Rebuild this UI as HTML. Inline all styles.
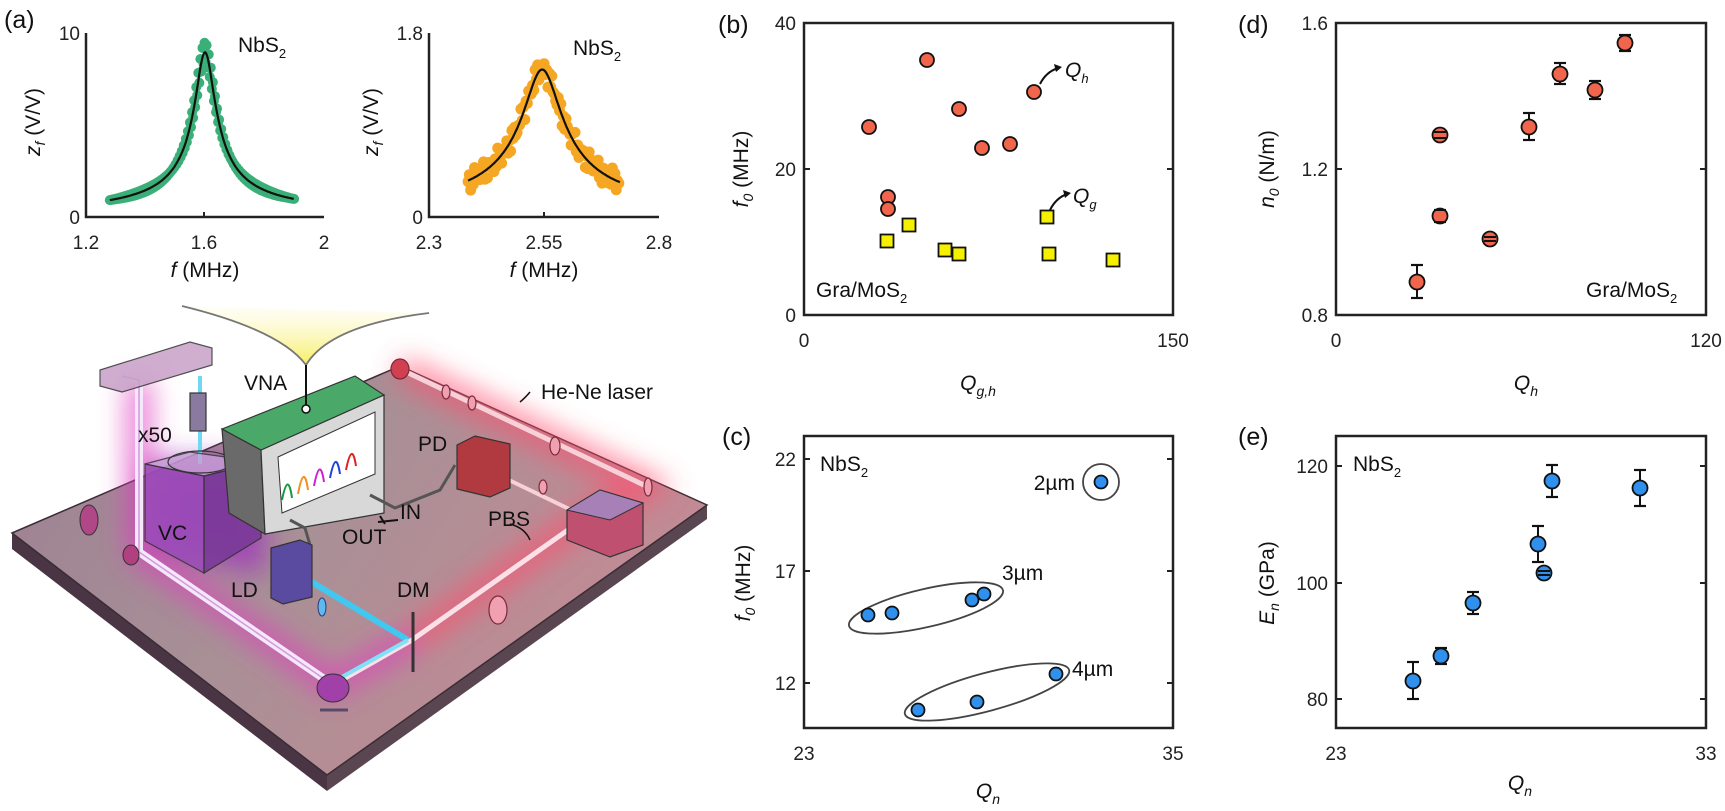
<!DOCTYPE html>
<html><head><meta charset="utf-8">
<style>
html,body{margin:0;padding:0;background:#fff;}
svg{display:block;font-family:"Liberation Sans",sans-serif;}
.t{font-size:19px;fill:#222;}
.lab{font-size:21px;fill:#111;}
.pl{font-size:25px;fill:#111;}
.ax{fill:none;stroke:#222;stroke-width:2.5;}
</style></head><body>
<svg id="s" width="1725" height="811" viewBox="0 0 1725 811" xmlns="http://www.w3.org/2000/svg">
<defs>
<linearGradient id="fan" x1="0" y1="0" x2="0" y2="1"><stop offset="0" stop-color="#fffbe0" stop-opacity="0.3"/><stop offset="1" stop-color="#f6ee60"/></linearGradient>
<linearGradient id="plate" x1="0" y1="0" x2="1" y2="0.4"><stop offset="0" stop-color="#9c7f93"/><stop offset="0.5" stop-color="#a89096"/><stop offset="1" stop-color="#c48a94"/></linearGradient>
<filter id="glow" x="-30%" y="-30%" width="160%" height="160%"><feGaussianBlur stdDeviation="6"/></filter>
<filter id="glow2" x="-30%" y="-30%" width="160%" height="160%"><feGaussianBlur stdDeviation="14"/></filter>
</defs>

<!-- ================= Illustration ================= -->
<g id="illus">
<polygon points="12,533 327,775 327,791 12,549" fill="#4a3545"/>
<polygon points="327,775 707,505 707,519 327,791" fill="#5a4650"/>
<polygon points="12,533 400,366 707,505 327,775" fill="url(#plate)" stroke="#3a2c36" stroke-width="1.5"/>
<!-- glows -->
<g filter="url(#glow2)" opacity="0.8">
<polyline points="139,380 139,552 333,685 412,640 592,513" fill="none" stroke="#e040c0" stroke-width="22"/>
<polyline points="400,369 648,487 592,513 412,640" fill="none" stroke="#ff5070" stroke-width="22"/>
<polygon points="150,460 265,460 265,575 150,545" fill="#a030c0"/>
</g>
<!-- red beam -->
<polyline points="400,369 648,487" fill="none" stroke="#f8d0d8" stroke-width="5"/>
<polyline points="457,455 592,520" fill="none" stroke="#f8d0d8" stroke-width="4"/>
<polyline points="592,513 412,640 333,685" fill="none" stroke="#fbe0e8" stroke-width="5"/>
<!-- white/purple beam -->
<polyline points="122,376 139,380 139,552 333,685" fill="none" stroke="#f4e8fa" stroke-width="8" stroke-linejoin="round"/>
<polyline points="122,376 139,380 139,552 333,685" fill="none" stroke="#c060d0" stroke-width="1.5" opacity="0.6"/>
<!-- blue beam -->
<line x1="300" y1="575" x2="408" y2="640" stroke="#40c8f0" stroke-width="6"/>
<line x1="408" y1="640" x2="333" y2="682" stroke="#80e0f8" stroke-width="4"/>
<line x1="200" y1="376" x2="200" y2="464" stroke="#70d8f0" stroke-width="4"/>
<!-- top rail -->
<polygon points="100,370 190,342 212,348 212,365 122,392 100,386" fill="#c8a0c8" stroke="#333" stroke-width="1.2" opacity="0.85"/>
<rect x="190" y="393" width="16" height="38" fill="#8a7aa0" stroke="#333" stroke-width="1.2"/>
<!-- VC box -->
<polygon points="145,464 190,452 261,462 204,476" fill="#c8a0d8" stroke="#333" stroke-width="1.2" opacity="0.8"/>
<polygon points="145,464 204,476 204,573 145,541" fill="#9a4cb8" stroke="#333" stroke-width="1.2" opacity="0.85"/>
<polygon points="204,476 261,462 261,538 204,573" fill="#7a3a98" stroke="#333" stroke-width="1.2" opacity="0.9"/>
<ellipse cx="200" cy="462" rx="32" ry="11" fill="none" stroke="#333" stroke-width="1.2"/>
<!-- cylinder left -->
<ellipse cx="89" cy="520" rx="9" ry="15" fill="#b04888" stroke="#333"/>
<!-- VNA -->
<polygon points="222,429 261,450 265,534 229,513" fill="#6a6a6a" stroke="#333" stroke-width="1.2"/>
<polygon points="261,450 384,395 384,513 265,534" fill="#d8d8d8" stroke="#333" stroke-width="1.2"/>
<polygon points="222,429 355,376 384,395 261,450" fill="#4aa868" stroke="#333" stroke-width="1.2"/>
<polygon points="278,457 375,412 375,474 282,513" fill="#fff" stroke="#333" stroke-width="1"/>
<path d="M282,500 Q288,470 292,498" fill="none" stroke="#1a9a40" stroke-width="2"/>
<path d="M298,494 Q304,462 308,490" fill="none" stroke="#f09020" stroke-width="2"/>
<path d="M314,486 Q320,455 324,482" fill="none" stroke="#d020d0" stroke-width="2"/>
<path d="M330,478 Q336,448 340,474" fill="none" stroke="#2040e0" stroke-width="2"/>
<path d="M346,470 Q352,440 356,466" fill="none" stroke="#e02020" stroke-width="2"/>
<!-- cables -->
<polyline points="370,495 395,508 440,490 455,465" fill="none" stroke="#555" stroke-width="3"/>
<polyline points="290,520 305,528 310,545" fill="none" stroke="#555" stroke-width="3"/>
<path d="M378,522 L398,520 M380,516 L385,524" stroke="#111" stroke-width="2" fill="none"/>
<!-- LD -->
<polygon points="271,548 300,540 312,545 312,597 283,604 271,598" fill="#5a4aa0" stroke="#333" stroke-width="1.2"/>
<!-- PD -->
<polygon points="457,445 475,436 510,444 510,488 490,497 457,489" fill="#b03a40" stroke="#333" stroke-width="1.2"/>
<!-- PBS -->
<polygon points="567,510 600,490 643,503 643,545 610,557 567,540" fill="#c05070" stroke="#333" stroke-width="1.2"/>
<polygon points="567,510 600,490 643,503 610,520" fill="#a880b8" stroke="#333" stroke-width="1"/>
<!-- lenses / mirrors -->
<g fill="#f0a0b0" stroke="#7a2a3a" stroke-width="1.2">
<ellipse cx="446" cy="392" rx="4" ry="7"/><ellipse cx="472" cy="403" rx="4" ry="7"/><ellipse cx="555" cy="446" rx="5" ry="9"/>
<ellipse cx="543" cy="487" rx="4" ry="7"/><ellipse cx="498" cy="610" rx="9" ry="14"/><ellipse cx="648" cy="487" rx="4" ry="9"/>
<ellipse cx="400" cy="369" rx="9" ry="10" fill="#d04050"/>
</g>
<ellipse cx="322" cy="607" rx="4" ry="9" fill="#60b8f0" stroke="#2a3a7a"/>
<ellipse cx="333" cy="688" rx="16" ry="14" fill="#a040a8" stroke="#333"/>
<line x1="320" y1="710" x2="348" y2="710" stroke="#5a4a6a" stroke-width="3"/>
<line x1="413" y1="612" x2="413" y2="672" stroke="#333" stroke-width="3"/>
<ellipse cx="131" cy="555" rx="8" ry="10" fill="#b04080" stroke="#333"/>
<!-- fan -->
<path d="M182,306 Q280,330 306,365 Q330,325 429,313" fill="url(#fan)" stroke="#777" stroke-width="1.8"/>
<line x1="306" y1="365" x2="306" y2="408" stroke="#111" stroke-width="2"/>
<circle cx="306" cy="409" r="4" fill="#fff" stroke="#111" stroke-width="1.5"/>
<path d="M530,392 Q525,398 520,402" fill="none" stroke="#111" stroke-width="1.5"/>
<path d="M510,524 Q525,528 530,540" fill="none" stroke="#111" stroke-width="1.5"/>
<g class="lab">
<text x="244" y="390">VNA</text><text x="138" y="442">x50</text><text x="158" y="540">VC</text>
<text x="231" y="597">LD</text><text x="342" y="544">OUT</text><text x="400" y="519">IN</text>
<text x="418" y="451">PD</text><text x="488" y="526">PBS</text><text x="397" y="597">DM</text>
<text x="541" y="399">He-Ne laser</text>
</g>
</g>

<!-- ================= Panel a ================= -->
<text class="pl" x="4" y="28">(a)</text>
<g id="a1"></g>
<polyline class="ax" points="86,33 86,217 324,217" stroke-width="2"/>
<line x1="204" y1="217" x2="204" y2="212" stroke="#222" stroke-width="2"/>
<text class="t" x="80" y="40" text-anchor="end">10</text>
<text class="t" x="80" y="224" text-anchor="end">0</text>
<text class="t" x="86" y="249" text-anchor="middle">1.2</text>
<text class="t" x="204" y="249" text-anchor="middle">1.6</text>
<text class="t" x="324" y="249" text-anchor="middle">2</text>
<text class="lab" x="205" y="277" text-anchor="middle"><tspan font-style="italic">f</tspan> (MHz)</text>
<text class="lab" transform="translate(40,122) rotate(-90)" text-anchor="middle"><tspan font-style="italic">z</tspan><tspan font-style="italic" font-size="14" dy="5">f</tspan><tspan dy="-5"> (V/V)</tspan></text>
<text class="lab" x="238" y="52">NbS<tspan font-size="13" dy="6">2</tspan></text>

<polyline class="ax" points="429,33 429,217 659,217" stroke-width="2"/>
<line x1="544" y1="217" x2="544" y2="212" stroke="#222" stroke-width="2"/>
<text class="t" x="423" y="40" text-anchor="end">1.8</text>
<text class="t" x="423" y="224" text-anchor="end">0</text>
<text class="t" x="429" y="249" text-anchor="middle">2.3</text>
<text class="t" x="544" y="249" text-anchor="middle">2.55</text>
<text class="t" x="659" y="249" text-anchor="middle">2.8</text>
<text class="lab" x="544" y="277" text-anchor="middle"><tspan font-style="italic">f</tspan> (MHz)</text>
<text class="lab" transform="translate(378,122) rotate(-90)" text-anchor="middle"><tspan font-style="italic">z</tspan><tspan font-style="italic" font-size="14" dy="5">f</tspan><tspan dy="-5"> (V/V)</tspan></text>
<text class="lab" x="573" y="55">NbS<tspan font-size="13" dy="6">2</tspan></text>

<!-- ================= Panel b ================= -->
<text class="pl" x="718" y="33">(b)</text>
<rect x="804" y="23" width="369" height="292" class="ax"/>
<line x1="804" y1="169" x2="810" y2="169" stroke="#222" stroke-width="2"/><line x1="1167" y1="169" x2="1173" y2="169" stroke="#222" stroke-width="2"/>
<text class="t" x="796" y="30" text-anchor="end">40</text>
<text class="t" x="796" y="176" text-anchor="end">20</text>
<text class="t" x="796" y="322" text-anchor="end">0</text>
<text class="t" x="804" y="347" text-anchor="middle">0</text>
<text class="t" x="1173" y="347" text-anchor="middle">150</text>
<text class="lab" transform="translate(748,169) rotate(-90)" text-anchor="middle"><tspan font-style="italic">f</tspan><tspan font-style="italic" font-size="14" dy="5">0</tspan><tspan dy="-5"> (MHz)</tspan></text>
<text class="lab" x="978" y="390" text-anchor="middle"><tspan font-style="italic">Q</tspan><tspan font-style="italic" font-size="14" dy="6">g,h</tspan></text>
<text class="lab" x="816" y="297">Gra/MoS<tspan font-size="13" dy="6">2</tspan></text>
<g id="b"></g>
<path d="M1040,84 Q1046,72 1058,68" fill="none" stroke="#111" stroke-width="2"/><polygon points="1062,67 1054,64 1056,72" fill="#111"/>
<text class="lab" x="1065" y="77" font-style="italic">Q<tspan font-size="13" dy="6">h</tspan></text>
<path d="M1050,210 Q1056,198 1067,194" fill="none" stroke="#111" stroke-width="2"/><polygon points="1071,193 1063,190 1065,198" fill="#111"/>
<text class="lab" x="1073" y="203" font-style="italic">Q<tspan font-size="13" dy="6">g</tspan></text>

<!-- ================= Panel d ================= -->
<text class="pl" x="1238" y="33">(d)</text>
<rect x="1336" y="23" width="370" height="292" class="ax"/>
<line x1="1336" y1="169" x2="1342" y2="169" stroke="#222" stroke-width="2"/><line x1="1700" y1="169" x2="1706" y2="169" stroke="#222" stroke-width="2"/>
<text class="t" x="1328" y="30" text-anchor="end">1.6</text>
<text class="t" x="1328" y="176" text-anchor="end">1.2</text>
<text class="t" x="1328" y="322" text-anchor="end">0.8</text>
<text class="t" x="1336" y="347" text-anchor="middle">0</text>
<text class="t" x="1706" y="347" text-anchor="middle">120</text>
<text class="lab" transform="translate(1274,169) rotate(-90)" text-anchor="middle"><tspan font-style="italic">n</tspan><tspan font-style="italic" font-size="14" dy="5">0</tspan><tspan dy="-5"> (N/m)</tspan></text>
<text class="lab" x="1526" y="390" text-anchor="middle" font-style="italic">Q<tspan font-size="14" dy="6">h</tspan></text>
<text class="lab" x="1586" y="297">Gra/MoS<tspan font-size="13" dy="6">2</tspan></text>
<g id="d"></g>

<!-- ================= Panel c ================= -->
<text class="pl" x="722" y="445">(c)</text>
<rect x="804" y="436" width="369" height="292" class="ax"/>
<g stroke="#222" stroke-width="2"><line x1="804" y1="459" x2="810" y2="459"/><line x1="804" y1="571" x2="810" y2="571"/><line x1="804" y1="683" x2="810" y2="683"/>
<line x1="1167" y1="459" x2="1173" y2="459"/><line x1="1167" y1="571" x2="1173" y2="571"/><line x1="1167" y1="683" x2="1173" y2="683"/></g>
<text class="t" x="796" y="466" text-anchor="end">22</text>
<text class="t" x="796" y="578" text-anchor="end">17</text>
<text class="t" x="796" y="690" text-anchor="end">12</text>
<text class="t" x="804" y="760" text-anchor="middle">23</text>
<text class="t" x="1173" y="760" text-anchor="middle">35</text>
<text class="lab" transform="translate(750,583) rotate(-90)" text-anchor="middle"><tspan font-style="italic">f</tspan><tspan font-style="italic" font-size="14" dy="5">0</tspan><tspan dy="-5"> (MHz)</tspan></text>
<text class="lab" x="988" y="798" text-anchor="middle" font-style="italic">Q<tspan font-size="14" dy="6">n</tspan></text>
<text class="lab" x="820" y="471">NbS<tspan font-size="13" dy="6">2</tspan></text>
<circle cx="1101" cy="482" r="18" fill="none" stroke="#444" stroke-width="1.8"/>
<ellipse cx="926" cy="608" rx="79" ry="19" transform="rotate(-13 926 608)" fill="none" stroke="#444" stroke-width="1.8"/>
<ellipse cx="987" cy="692" rx="85" ry="19" transform="rotate(-15 987 692)" fill="none" stroke="#444" stroke-width="1.8"/>
<text class="lab" x="1075" y="490" text-anchor="end">2µm</text>
<text class="lab" x="1002" y="580">3µm</text>
<text class="lab" x="1072" y="676">4µm</text>
<g id="c"></g>

<!-- ================= Panel e ================= -->
<text class="pl" x="1238" y="445">(e)</text>
<rect x="1336" y="436" width="370" height="292" class="ax"/>
<g stroke="#222" stroke-width="2"><line x1="1336" y1="466" x2="1342" y2="466"/><line x1="1336" y1="583" x2="1342" y2="583"/><line x1="1336" y1="699" x2="1342" y2="699"/>
<line x1="1700" y1="466" x2="1706" y2="466"/><line x1="1700" y1="583" x2="1706" y2="583"/><line x1="1700" y1="699" x2="1706" y2="699"/></g>
<text class="t" x="1328" y="473" text-anchor="end">120</text>
<text class="t" x="1328" y="590" text-anchor="end">100</text>
<text class="t" x="1328" y="706" text-anchor="end">80</text>
<text class="t" x="1336" y="760" text-anchor="middle">23</text>
<text class="t" x="1706" y="760" text-anchor="middle">33</text>
<text class="lab" transform="translate(1274,583) rotate(-90)" text-anchor="middle"><tspan font-style="italic">E</tspan><tspan font-style="italic" font-size="14" dy="5">n</tspan><tspan dy="-5"> (GPa)</tspan></text>
<text class="lab" x="1520" y="790" text-anchor="middle" font-style="italic">Q<tspan font-size="14" dy="6">n</tspan></text>
<text class="lab" x="1353" y="471">NbS<tspan font-size="13" dy="6">2</tspan></text>
<g id="e"></g>
</svg>
<script>
var NS="http://www.w3.org/2000/svg";
function el(g,tag,attrs){var e=document.createElementNS(NS,tag);for(var k in attrs)e.setAttribute(k,attrs[k]);document.getElementById(g).appendChild(e);return e;}
// panel a curves
(function(){
 var pts="",fit="";
 function X1(f){return 86+(f-1.2)*297.5;} function Y1(z){return 217-z*18.4;}
 function L1(f){return 8.95/Math.sqrt(1+Math.pow((f-1.6)/0.033,2));}
 for(var f=1.28;f<=1.9;f+=0.0035){var n=(Math.sin(f*913)*0.5)*0.12*L1(f);
  el("a1","circle",{cx:X1(f),cy:Y1(L1(f)+n),r:5,fill:"#3aaf78"});}
 for(var f=1.28;f<=1.9;f+=0.003){fit+=(fit?"L":"M")+X1(f).toFixed(1)+","+Y1(L1(f)).toFixed(1);}
 el("a1","path",{d:fit,fill:"none",stroke:"#111","stroke-width":2.2});
 function X2(f){return 429+(f-2.3)*460;} function Y2(z){return 217-z*101.7;}
 function L2(f){return 1.45/Math.sqrt(1+Math.pow((f-2.546)/0.041,2));}
 var fit2="";
 for(var f=2.385;f<=2.715;f+=0.0028){var n=Math.sin(f*1234.5)*0.09+Math.cos(f*377)*0.05;
  el("a1","circle",{cx:X2(f),cy:Y2(L2(f)+n*0.8),r:5.5,fill:"#f5a623"});}
 for(var f=2.385;f<=2.715;f+=0.002){fit2+=(fit2?"L":"M")+X2(f).toFixed(1)+","+Y2(L2(f)).toFixed(1);}
 el("a1","path",{d:fit2,fill:"none",stroke:"#111","stroke-width":2.2});
})();
// b
[[869,127],[927,60],[959,109],[982,148],[1010,144],[1034,92],[888,197],[888,209]].forEach(function(p){
 el("b","circle",{cx:p[0],cy:p[1],r:7,fill:"#f0654c",stroke:"#111","stroke-width":1.8});});
[[887,241],[909,225],[945,250],[959,254],[1047,217],[1049,254],[1113,260]].forEach(function(p){
 el("b","rect",{x:p[0]-6.5,y:p[1]-6.5,width:13,height:13,fill:"#f5f000",stroke:"#111","stroke-width":1.8});});
function errpts(g,arr,col,r){
 arr.forEach(function(p){
  el(g,"line",{x1:p[0],y1:p[2],x2:p[0],y2:p[3],stroke:"#111","stroke-width":2});
  el(g,"line",{x1:p[0]-6,y1:p[2],x2:p[0]+6,y2:p[2],stroke:"#111","stroke-width":2.2});
  el(g,"line",{x1:p[0]-6,y1:p[3],x2:p[0]+6,y2:p[3],stroke:"#111","stroke-width":2.2});
 });
 arr.forEach(function(p){
  el(g,"circle",{cx:p[0],cy:p[1],r:r,fill:col,stroke:"#111","stroke-width":1.8});
  if(p[3]-p[2]<2*r){el(g,"line",{x1:p[0]-6,y1:p[2],x2:p[0]+6,y2:p[2],stroke:"#111","stroke-width":2});
   el(g,"line",{x1:p[0]-6,y1:p[3],x2:p[0]+6,y2:p[3],stroke:"#111","stroke-width":2});}
 });
}
errpts("d",[[1417,282,265,298],[1440,135,132,138],[1440,216,210,222],[1490,239,237,241],[1529,127,113,140],[1560,74,63,84],[1595,90,81,99],[1625,43,35,51]],"#f0654c",7.5);
errpts("e",[[1413,681,662,699],[1441,656,648,664],[1473,603,592,614],[1538,544,526,562],[1544,573,571,575],[1552,481,465,497],[1640,488,470,506]],"#2f90ee",7.5);
[[868,615],[892,613],[972,600],[984,594],[1101,482],[918,710],[977,702],[1056,674]].forEach(function(p){
 el("c","circle",{cx:p[0],cy:p[1],r:6.5,fill:"#2f90ee",stroke:"#111","stroke-width":1.8});});
</script>
</body></html>
